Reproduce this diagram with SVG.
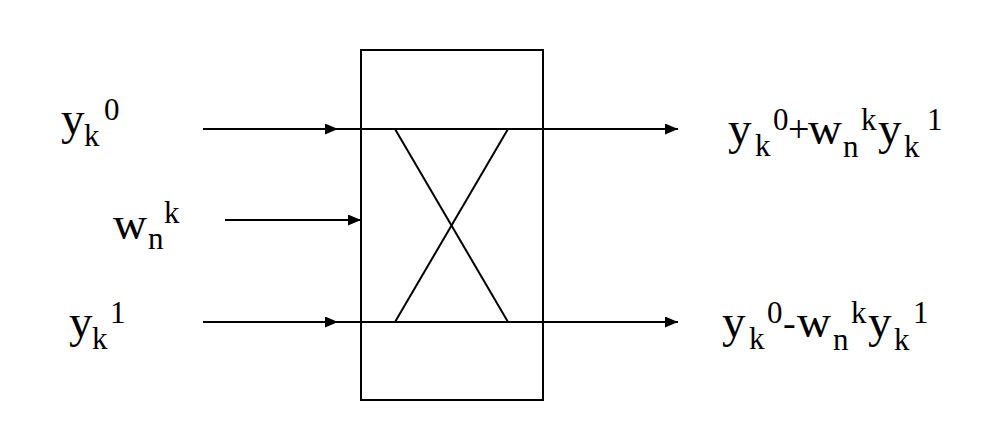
<svg xmlns="http://www.w3.org/2000/svg" width="1001" height="433" viewBox="0 0 1001 433">
<style>
.ln{stroke:#000;stroke-width:2;fill:none}
text{font-family:'Liberation Serif','Times New Roman',serif;font-size:47px;fill:#000}
.s{font-size:31px}
.op{font-size:38px}
</style>
<defs>
<marker id="ah" markerUnits="userSpaceOnUse" markerWidth="13" markerHeight="11" refX="13" refY="5.5" orient="auto">
<path d="M0,0 L13,5.5 L0,11 z" fill="#000"/>
</marker>
</defs>
<rect width="1001" height="433" fill="#fff"/>
<g id="butterfly">
<rect class="ln" x="361" y="50" width="182" height="350"/>
<line class="ln" x1="395" y1="129" x2="508" y2="322"/>
<line class="ln" x1="508" y1="129" x2="395" y2="322"/>
</g>
<g id="connectors">
<line class="ln" x1="203" y1="129" x2="338" y2="129" marker-end="url(#ah)"/>
<line class="ln" x1="336" y1="129" x2="678" y2="129" marker-end="url(#ah)"/>
<line class="ln" x1="225" y1="220" x2="361" y2="220" marker-end="url(#ah)"/>
<line class="ln" x1="203" y1="322" x2="338" y2="322" marker-end="url(#ah)"/>
<line class="ln" x1="336" y1="322" x2="678" y2="322" marker-end="url(#ah)"/>
</g>
<g id="in-y0">
<text x="61" y="134">y</text>
<text class="s" x="84" y="146">k</text>
<text class="s" x="104" y="120">0</text>
</g>
<g id="in-w">
<text x="113" y="239">w</text>
<text class="s" x="148" y="249">n</text>
<text class="s" x="164" y="223">k</text>
</g>
<g id="in-y1">
<text x="69" y="337">y</text>
<text class="s" x="92" y="349">k</text>
<text class="s" x="110" y="323">1</text>
</g>
<g id="out-sum">
<text x="728" y="144">y</text>
<text class="s" x="755" y="156">k</text>
<text class="s" x="773" y="130">0</text>
<text class="op" x="788" y="142">+</text>
<text x="808" y="144">w</text>
<text class="s" x="843" y="157">n</text>
<text class="s" x="861" y="130">k</text>
<text x="878" y="144">y</text>
<text class="s" x="904" y="157">k</text>
<text class="s" x="927" y="130">1</text>
</g>
<g id="out-diff">
<text x="722" y="337">y</text>
<text class="s" x="749" y="349">k</text>
<text class="s" x="767" y="323">0</text>
<text class="op" x="783" y="336">-</text>
<text x="797" y="337">w</text>
<text class="s" x="833" y="350">n</text>
<text class="s" x="851" y="323">k</text>
<text x="868" y="337">y</text>
<text class="s" x="894" y="350">k</text>
<text class="s" x="913" y="323">1</text>
</g>
</svg>
